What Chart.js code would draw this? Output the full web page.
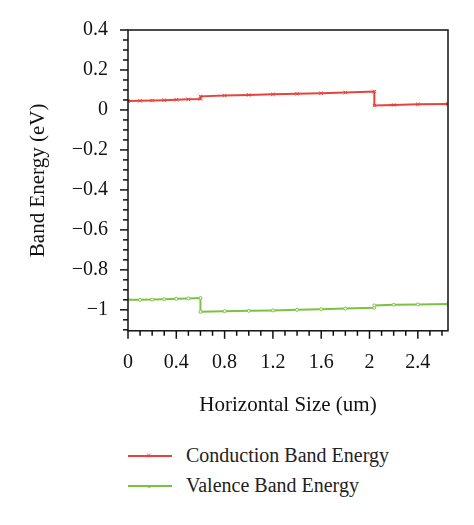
<!DOCTYPE html>
<html><head><meta charset="utf-8">
<script src="https://cdn.jsdelivr.net/npm/chart.js@4"></script>
<style>
body{margin:0;background:#fff;font-family:"Liberation Serif",serif;}
#wrap{position:relative;width:474px;height:430px;}
.leg{position:absolute;left:128px;font-size:20px;color:#222;display:flex;align-items:center;}
.leg span.l{display:inline-block;width:44px;height:0;border-top:2px solid;margin-right:14px;position:relative;}
.leg span.l i{position:absolute;left:18px;top:-6px;font-style:normal;font-size:10px;line-height:10px;}
</style></head><body>
<div id="wrap"><canvas id="c" width="474" height="430"></canvas></div>
<div class="leg" style="top:444px"><span class="l" style="border-color:#e8433a"><i style="color:#e8433a">×</i></span>Conduction Band Energy</div>
<div class="leg" style="top:474px"><span class="l" style="border-color:#7cc242"><i style="color:#7cc242">∘</i></span>Valence Band Energy</div>
<script>
const xPositions=[0,0.1,0.2,0.3,0.4,0.5,0.6,0.6,0.8,1.0,1.2,1.4,1.6,1.8,2.04,2.04,2.2,2.4,2.65];
const conductionBand=[0.045,0.046,0.047,0.049,0.051,0.053,0.055,0.068,0.072,0.075,0.078,0.081,0.084,0.087,0.092,0.022,0.025,0.028,0.030];
const valenceBand=[-0.950,-0.950,-0.949,-0.947,-0.945,-0.943,-0.941,-1.010,-1.007,-1.005,-1.003,-1.000,-0.997,-0.994,-0.990,-0.978,-0.975,-0.973,-0.971];
const xTickLabels=[0,0.4,0.8,1.2,1.6,2,2.4];
const yTickLabels=[0.4,0.2,0,-0.2,-0.4,-0.6,-0.8,-1];
const pts=a=>xPositions.map((x,i)=>({x,y:a[i]}));
const fmt=v=>{let s=String(Math.round(v*10)/10);return s.replace('-','\u2212');};
const minor={id:'minor',afterDraw(ch){const c=ch.ctx,a=ch.chartArea,xs=ch.scales.x,ys=ch.scales.y;c.save();c.strokeStyle='#111';c.lineWidth=1.5;
c.strokeRect(a.left,a.top,a.right-a.left,a.bottom-a.top);
for(let i=0;i<=26;i++){const v=i/10,p=xs.getPixelForValue(v);const maj=xTickLabels.some(t=>Math.abs(t-v)<1e-6);c.beginPath();c.moveTo(p,a.bottom);c.lineTo(p,a.bottom+(maj?8:5));c.stroke();}
for(let i=-22;i<=8;i++){const v=i*0.05,p=ys.getPixelForValue(v);const maj=yTickLabels.some(t=>Math.abs(t-v)<1e-6);c.beginPath();c.moveTo(a.left,p);c.lineTo(a.left-(maj?8:5),p);c.stroke();}
c.restore();}};
new Chart(document.getElementById('c'),{type:'line',
data:{datasets:[
{label:'Conduction Band Energy',data:pts(conductionBand),borderColor:'#e8433a',backgroundColor:'#e8433a',borderWidth:2,pointStyle:'crossRot',pointRadius:2.5,pointBorderWidth:1,tension:0},
{label:'Valence Band Energy',data:pts(valenceBand),borderColor:'#7cc242',backgroundColor:'#fff',borderWidth:2,pointStyle:'circle',pointRadius:1.5,pointBorderWidth:1,tension:0}]},
options:{responsive:false,animation:false,layout:{padding:{top:30,right:26,left:22,bottom:8}},
plugins:{legend:{display:false},tooltip:{enabled:false}},
scales:{
x:{type:'linear',min:0,max:2.65,border:{display:false},grid:{display:false},
ticks:{autoSkip:false,maxRotation:0,minRotation:0,color:'#111',font:{family:'Liberation Serif',size:20},padding:12,callback:(v)=>xTickLabels.some(t=>Math.abs(t-v)<1e-6)?fmt(v):''},
afterBuildTicks:s=>{s.ticks=[];for(let i=0;i<=26;i++)s.ticks.push({value:i/10});},
title:{display:true,text:'Horizontal Size (um)',color:'#111',font:{family:'Liberation Serif',size:21},padding:{top:6}}},
y:{type:'linear',min:-1.105,max:0.4,border:{display:false},grid:{display:false},
afterBuildTicks:s=>{s.ticks=yTickLabels.map(v=>({value:v}));},
afterFit:s=>{s.width=106;},
ticks:{color:'#111',font:{family:'Liberation Serif',size:20},padding:12,callback:v=>fmt(v)},
title:{display:true,text:'Band Energy (eV)',color:'#111',font:{family:'Liberation Serif',size:21},padding:{bottom:4}}}}},
plugins:[minor]});
</script></body></html>
